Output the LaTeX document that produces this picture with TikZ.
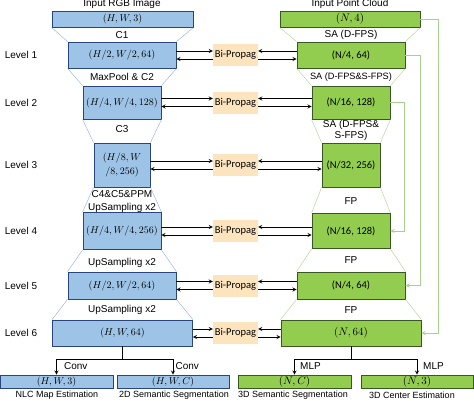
\documentclass[tikz,border=0pt]{standalone}
\usepackage{fontspec}
\setmainfont{Liberation Sans}
\newfontfamily\calfont{Carlito}
\definecolor{boxblue}{RGB}{157,195,230}
\definecolor{lineblue}{RGB}{40,70,125}
\definecolor{trapblue}{RGB}{143,170,220}
\definecolor{boxgreen}{RGB}{146,205,80}
\definecolor{linegreen}{RGB}{56,87,35}
\definecolor{trapgreen}{RGB}{169,209,142}
\definecolor{bipfill}{RGB}{252,228,190}
\begin{document}
\begin{tikzpicture}[x=1pt,y=-1pt,>=stealth,font=\fontsize{10}{12}\selectfont,
    bluebox/.style n args={2}{draw=lineblue,fill=boxblue,line width=0.9pt,inner sep=0pt,minimum width=#1,minimum height=#2,align=center,font=\fontsize{10}{14}\selectfont},
    greenbox/.style n args={2}{draw=linegreen,fill=boxgreen,line width=0.9pt,inner sep=0pt,minimum width=#1,minimum height=#2,font=\calfont\fontsize{10.5}{12}\selectfont},
    propag/.style={fill=bipfill,inner sep=0pt,minimum width=45pt,minimum height=22pt,font=\calfont\fontsize{10.5}{12}\selectfont},
    link/.style={->,line width=0.8pt},
    skiplink/.style={->,trapgreen,line width=0.8pt},
    outlabel/.style={font=\fontsize{9}{11}\selectfont}]
                \useasboundingbox (0,0) rectangle (474,402);
                % titles
                \node (tl) at (122,4) {Input RGB Image};
                \node (tr) at (350,4) {Input Point Cloud};
                % image branch
                \node[bluebox={141pt}{16pt}] (b0) at (122.5,19) {$(H,W,3)$};
                \node[bluebox={108pt}{26pt}] (b1) at (122,55) {$(H/2,W/2,64)$};
                \node[bluebox={78pt}{33pt}] (b2) at (122,102.5) {$(H/4,W/4,128)$};
                \node[bluebox={56pt}{44pt}] (b3) at (122,165) {$(H/8,W$\\$/8,256)$};
                \node[bluebox={78pt}{37pt}] (b4) at (122,231) {$(H/4,W/4,256)$};
                \node[bluebox={108pt}{27pt}] (b5) at (122,285.5) {$(H/2,W/2,64)$};
                \node[bluebox={140pt}{26pt}] (b6) at (122.5,333) {$(H,W,64)$};
                % point branch
                \node[greenbox={140pt}{16pt}] (r0) at (350,19) {$(N,4)$};
                \node[greenbox={108pt}{26pt}] (r1) at (351,55) {(N/4, 64)};
                \node[greenbox={78pt}{33pt}] (r2) at (351,102.5) {(N/16, 128)};
                \node[greenbox={58pt}{44pt}] (r3) at (351,165) {(N/32, 256)};
                \node[greenbox={78pt}{35pt}] (r4) at (351,231) {(N/16, 128)};
                \node[greenbox={108pt}{27pt}] (r5) at (351,285.5) {(N/4, 64)};
                \node[greenbox={140pt}{26pt}] (r6) at (351,333) {$(N,64)$};
                % funnels
                \foreach \a/\b in {0/1,1/2,2/3,3/4,4/5,5/6}{
                    \draw[trapblue] (b\a.south west) -- (b\b.north west) (b\a.south east) -- (b\b.north east);
                    \draw[trapgreen] (r\a.south west) -- (r\b.north west) (r\a.south east) -- (r\b.north east);
                }
                % step labels
                \node at (122,35) {C1};
                \node at (122,77) {MaxPool \& C2};
                \node at (122,129) {C3};
                \node[align=center,font=\fontsize{10}{13}\selectfont] at (122,201.5) {C4\&C5\&PPM\\UpSampling x2};
                \node at (122,263) {UpSampling x2};
                \node at (122,310) {UpSampling x2};
                \node at (351,35) {SA (D-FPS)};
                \node[font=\fontsize{9.2}{11}\selectfont] at (351,77) {SA (D-FPS\&S-FPS)};
                \node[align=center,font=\fontsize{10}{11}\selectfont] at (351,130.5) {SA (D-FPS\&\\S-FPS)};
                \node at (351,201) {FP};
                \node at (351,260) {FP};
                \node at (351,310) {FP};
                % levels and Bi-Propag
                \foreach \y/\n in {55/1,102.5/2,165/3,231/4,285.5/5,333/6}{
                    \node (lv\n) at (21,\y) {Level \n};
                    \node[propag] (bp\n) at (235.5,\y) {Bi-Propag};
                }
                \foreach \n in {1,...,6}{
                    \draw[link] ([yshift=4pt]b\n.east) -- ([yshift=4pt]bp\n.west);
                    \draw[link] ([yshift=-4pt]bp\n.west) -- ([yshift=-4pt]b\n.east);
                    \draw[link] ([yshift=4pt]r\n.west) -- ([yshift=4pt]bp\n.east);
                    \draw[link] ([yshift=-4pt]bp\n.east) -- ([yshift=-4pt]r\n.west);
                }
                % skip connections
                \draw[skiplink] (r0.east) -- ++(18,0) |- (r6.east);
                \draw[skiplink] (r1.east) -- ++(15,0) |- (r5.east);
                \draw[skiplink] (r2.east) -- ++(14,0) |- (r4.east);
                % heads
                \node[bluebox={113pt}{13pt}] (o1) at (56.5,381.5) {$(H,W,3)$};
                \node[bluebox={112pt}{13pt}] (o2) at (173,381.5) {$(H,W,C)$};
                \node[greenbox={113pt}{13pt}] (o3) at (294.5,381.5) {$(N,C)$};
                \node[greenbox={112pt}{13pt}] (o4) at (417,381.5) {$(N,3)$};
                \draw[line width=0.8pt] (b6.south) -- ++(0,13) coordinate (ls);
                \draw[link] (ls) -| (o1.north);
                \draw[link] (ls) -| (o2.north);
                \draw[line width=0.8pt] (r6.south) -- ++(0,13) coordinate (rs);
                \draw[link] (rs) -| (o3.north);
                \draw[link] (rs) -| (o4.north);
                \node[anchor=west] (cv1) at (60.5,366) {Conv};
                \node[anchor=west] (cv2) at (172,366) {Conv};
                \node[anchor=west] (mlp1) at (296.7,366) {MLP};
                \node[anchor=west] (mlp2) at (419.7,366) {MLP};
                \node[outlabel] (t1) at (57,395) {NLC Map Estimation};
                \node[outlabel] (t2) at (174,395) {2D Semantic Segmentation};
                \node[outlabel] (t3) at (293,395) {3D Semantic Segmentation};
                \node[outlabel] (t4) at (412,395) {3D Center Estimation};
            \end{tikzpicture}
\end{document}
